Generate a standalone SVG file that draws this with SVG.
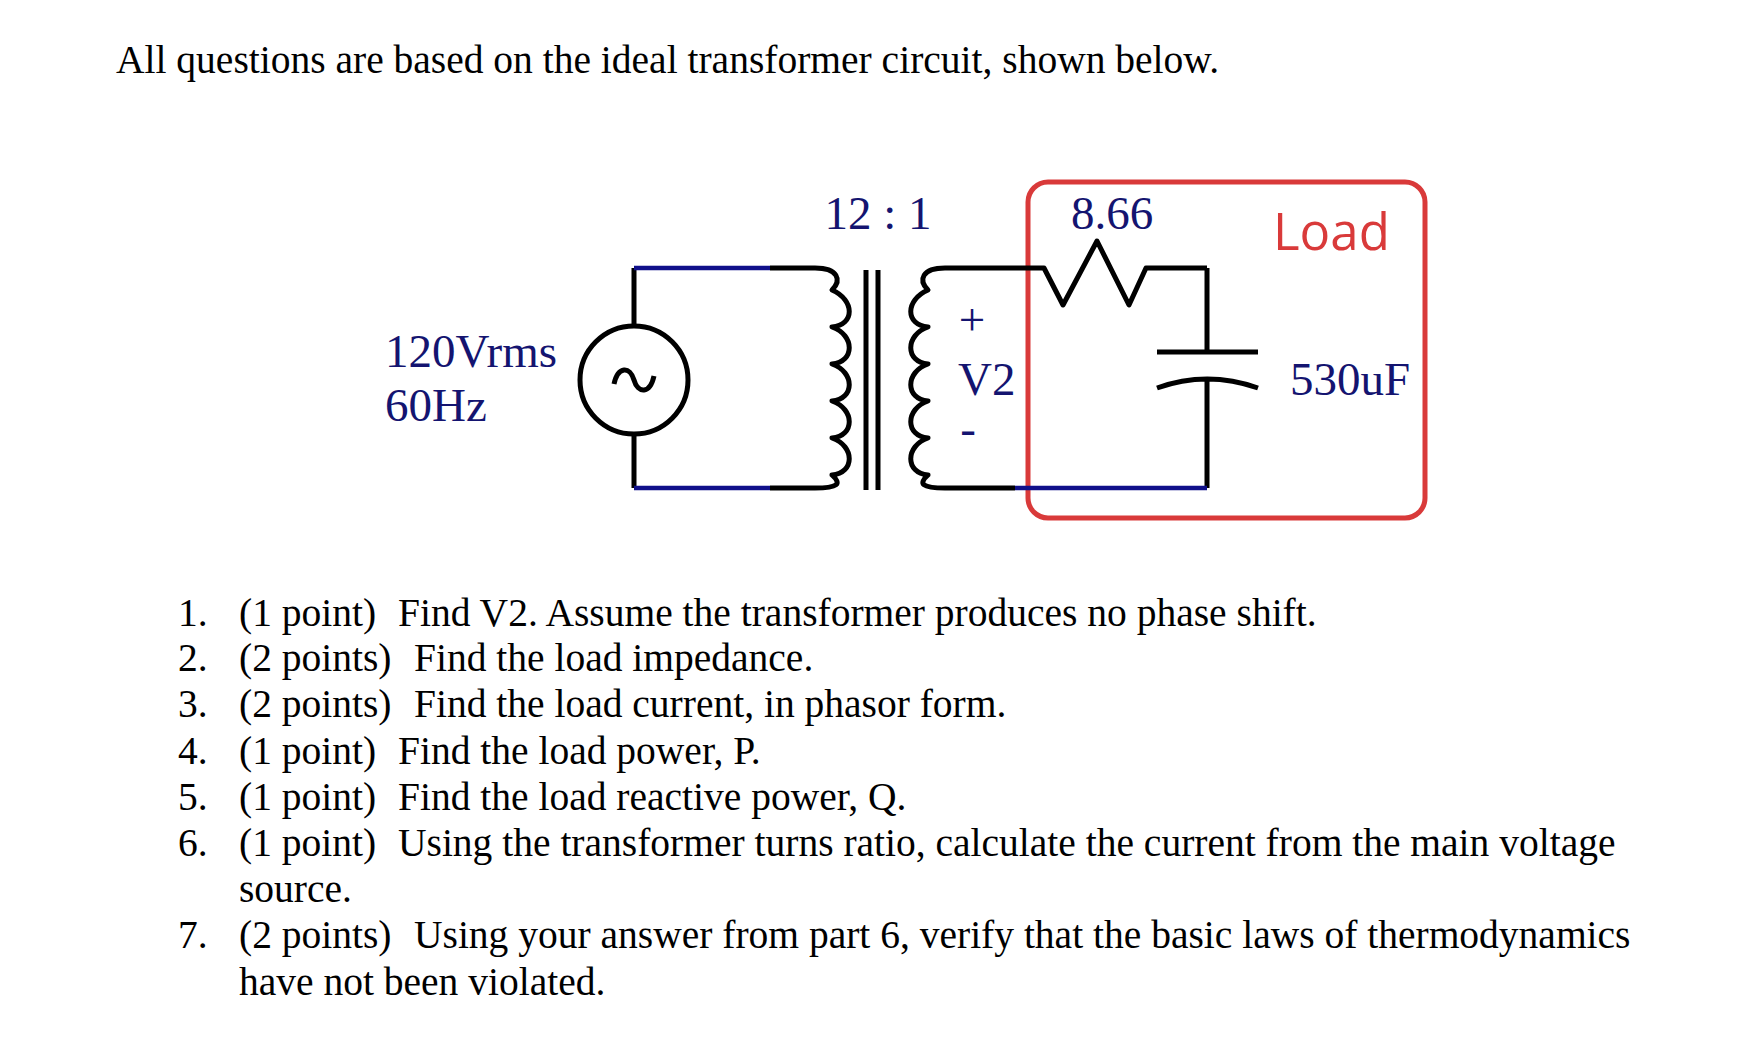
<svg xmlns="http://www.w3.org/2000/svg" width="1760" height="1040" viewBox="0 0 1760 1040">
<style>
.t{font-family:"Liberation Serif","Times New Roman",serif;font-size:39.5px;fill:#000}
.c{font-family:"Liberation Serif","Times New Roman",serif;font-size:47px;fill:#141470}
.w{fill:none;stroke:#000;stroke-width:5;stroke-linejoin:round}
.b{fill:none;stroke:#10108a;stroke-width:4.5}
</style>
<rect width="1760" height="1040" fill="#fff"/>
<text class="t" x="116" y="73" font-size="40">All questions are based on the ideal transformer circuit, shown below.</text>
<g id="labels">
<text class="c" x="878" y="229" text-anchor="middle">12 : 1</text>
<text class="c" x="1112" y="229" text-anchor="middle">8.66</text>
<text x="1273" y="250" font-family="'Open Sans','Liberation Sans',sans-serif" font-size="51" fill="#d93a3a">Load</text>
<text class="c" x="385" y="367">120Vrms</text>
<text class="c" x="385" y="421">60Hz</text>
<text class="c" x="972" y="335" text-anchor="middle" font-size="38">+</text>
<text class="c" x="958" y="395">V2</text>
<text class="c" x="968" y="444" text-anchor="middle" font-size="38">-</text>
<text class="c" x="1290" y="395">530uF</text>
</g>
<g id="load-box"><rect x="1028" y="182" width="397" height="336" rx="20" fill="none" stroke="#d93a3a" stroke-width="5"/></g>
<g id="source">
<circle cx="634" cy="380" r="54" fill="none" stroke="#000" stroke-width="5"/>
<path class="w" d="M614 384 C618 366 630 366 634 380 C638 394 650 394 654 376"/>
</g>
<g id="transformer">
<path class="w" d="M770 268 H815 C838 268 842 280 832 290 C855 300 855 325 832 327 C855 335 855 362 832 364 C855 372 855 399 832 401 C855 409 855 436 832 438 C855 446 855 473 832 475 C842 484 838 488 815 488 H770"/>
<line class="w" x1="866" y1="270" x2="866" y2="490"/>
<line class="w" x1="878" y1="270" x2="878" y2="490"/>
<path class="w" d="M995 268 H945 C922 268 918 280 928 290 C905 300 905 325 928 327 C905 335 905 362 928 364 C905 372 905 399 928 401 C905 409 905 436 928 438 C905 446 905 473 928 475 C918 484 922 488 945 488 H1015"/>
</g>
<g id="resistor"><path class="w" d="M995 268 H1044 L1063 305 L1097 241 L1129 305 L1146 268 H1207"/></g>
<g id="capacitor">
<path class="w" d="M1207 268 V352 M1157 352 H1258"/>
<path class="w" d="M1157 388 Q1207 370 1258 388 M1207 378 V488"/>
</g>
<g id="connectors">
<path class="w" d="M634 268 V326 M634 434 V488"/>
<path class="b" d="M634 268 H770 M634 488 H770 M1015 488 H1207"/>
</g>
<g id="questions" class="t">
<text x="178" y="626">1.</text><text x="239" y="626">(1 point)</text><text x="398" y="626">Find V2.  Assume the transformer produces no phase shift.</text>
<text x="178" y="671">2.</text><text x="239" y="671">(2 points)</text><text x="414" y="671">Find the load impedance.</text>
<text x="178" y="717">3.</text><text x="239" y="717">(2 points)</text><text x="414" y="717">Find the load current, in phasor form.</text>
<text x="178" y="764">4.</text><text x="239" y="764">(1 point)</text><text x="398" y="764">Find the load power, P.</text>
<text x="178" y="810">5.</text><text x="239" y="810">(1 point)</text><text x="398" y="810">Find the load reactive power, Q.</text>
<text x="178" y="856">6.</text><text x="239" y="856">(1 point)</text><text x="398" y="856">Using the transformer turns ratio, calculate the current from the main voltage</text>
<text x="239" y="902">source.</text>
<text x="178" y="948">7.</text><text x="239" y="948">(2 points)</text><text x="414" y="948">Using your answer from part 6, verify that the basic laws of thermodynamics</text>
<text x="239" y="995">have not been violated.</text>
</g>
</svg>
